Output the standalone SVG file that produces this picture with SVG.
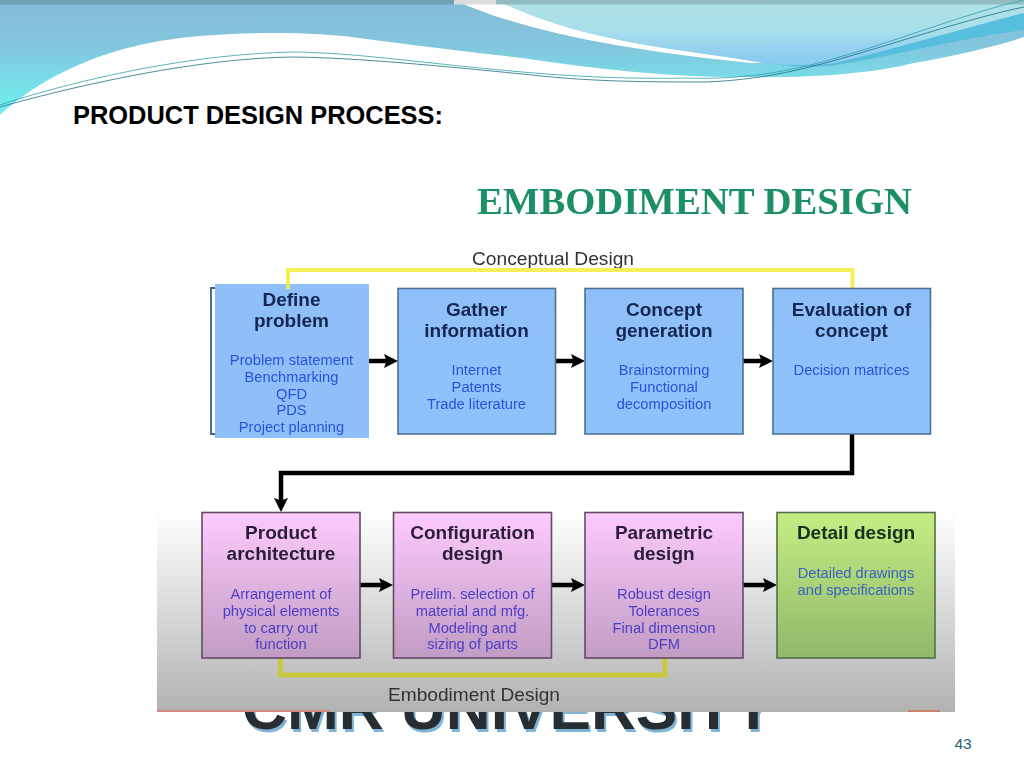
<svg xmlns="http://www.w3.org/2000/svg" width="1024" height="768" viewBox="0 0 1024 768">
<style>
text{font-family:"Liberation Sans",Arial,sans-serif;text-anchor:middle}
.box{stroke-width:1.6}
.b{fill:url(#blue);stroke:#4f708f}
.p{fill:url(#pink);stroke:#5e4e62}
.g{fill:url(#green);stroke:#566f4c}
.t{font-weight:bold;font-size:19px;fill:#14264f}
.tp{font-weight:bold;font-size:19px;fill:#2b1f3c}
.tg{font-weight:bold;font-size:19px;fill:#16301c}
.d{font-size:14.700px;fill:#2a52dc}
.dp{font-size:14.700px;fill:#4a3fc6}
.dg{font-size:14.700px;fill:#3a62c2}
.lab{font-size:18.500px;fill:#333}
.arr{fill:none;stroke:#000;stroke-width:4.5;marker-end:url(#ah)}
</style>
<defs>
<linearGradient id="sky" gradientUnits="userSpaceOnUse" x1="0" y1="0" x2="0" y2="115"><stop offset="0" stop-color="#86bbd9"/><stop offset=".4" stop-color="#82c6dd"/><stop offset=".7" stop-color="#78dde8"/><stop offset="1" stop-color="#70f0f0"/></linearGradient>
<linearGradient id="light" gradientUnits="userSpaceOnUse" x1="0" y1="0" x2="0" y2="66"><stop offset="0" stop-color="#b0e2e6"/><stop offset=".45" stop-color="#a8dfea"/><stop offset=".85" stop-color="#8ecdf2"/><stop offset="1" stop-color="#88caf0"/></linearGradient>
<linearGradient id="panel" gradientUnits="userSpaceOnUse" x1="0" y1="510" x2="0" y2="712"><stop offset="0" stop-color="#fff"/><stop offset=".2" stop-color="#f0f0f0"/><stop offset="1" stop-color="#b2b2b2"/></linearGradient>
<linearGradient id="blue" x1="0" y1="0" x2="0" y2="1"><stop offset="0" stop-color="#8ebff8"/><stop offset="1" stop-color="#8fc2fb"/></linearGradient>
<linearGradient id="pink" x1="0" y1="0" x2="0" y2="1"><stop offset="0" stop-color="#fecafc"/><stop offset="1" stop-color="#c09cc4"/></linearGradient>
<linearGradient id="green" x1="0" y1="0" x2="0" y2="1"><stop offset="0" stop-color="#c4ee84"/><stop offset="1" stop-color="#90b86a"/></linearGradient>
<filter id="soft" x="-5%" y="-5%" width="110%" height="110%"><feGaussianBlur stdDeviation="0.45"/></filter>
<marker id="ah" markerUnits="userSpaceOnUse" markerWidth="16" markerHeight="16" refX="9" refY="8" orient="auto"><path d="M0 1 L14 8 L0 15 L2.500 8 Z" fill="#000"/></marker>
</defs>
<rect width="1024" height="768" fill="#fff"/>

<g id="banner">
<path d="M0 0H1024V37C1000 45 960 55 914 63C870 74 810 78 751 77C680 78 600 70 522 58C470 52 420 46 359 38C320 33 261 31 200 36C90 45 30 88 0 115Z" fill="url(#sky)"/>
<path d="M454 0C520 30 620 50 751 63L764 63C680 48 590 45 496 0Z" fill="#fff"/>
<path d="M496 0C590 45 680 48 764 63C790 66 810 66 836 63C890 50 960 30 1024 13V0Z" fill="url(#light)"/>
<path d="M764 63C790 66 810 66 836 63C890 50 960 30 1024 13V30C960 38 900 55 836 65C810 68 785 66 764 63Z" fill="#58bede"/>
<rect width="454" height="4.5" fill="#6f9fb9"/>
<rect x="454" width="42" height="4.5" fill="#dcdcdc"/>
<rect x="496" width="528" height="4.5" fill="#8fbcc0"/>
<path d="M0 105C60 85 180 54 294 52C360 53 420 63 522 72C590 78 650 79 686 78C740 80 790 72 836 58C900 40 970 12 1024 0" fill="none" stroke="#2f9fae" stroke-width=".8"/>
<path d="M0 107C60 90 190 58 294 57C360 58 440 66 522 74C590 82 650 82 705 82C760 80 800 70 836 60C900 42 970 18 1024 7" fill="none" stroke="#1f6f80" stroke-width=".8"/>
</g>

<text x="258" y="124" font-size="26" font-weight="bold" fill="#000" textLength="370" lengthAdjust="spacingAndGlyphs">PRODUCT DESIGN PROCESS:</text>

<g id="watermark">
<text x="510" y="732" font-size="62" font-weight="bold" fill="#7fb4d6" textLength="532" lengthAdjust="spacingAndGlyphs">CMR UNIVERSITY</text>
<text x="508" y="729" font-size="62" font-weight="bold" fill="#262d33" textLength="532" lengthAdjust="spacingAndGlyphs">CMR UNIVERSITY</text>
</g>

<g id="image-panel" filter="url(#soft)">
<rect x="157" y="510" width="798" height="202" fill="url(#panel)"/>
<rect x="157" y="710" width="173" height="2" fill="#d08a80"/>
<rect x="908" y="710" width="32" height="2" fill="#c8846a"/>
</g>

<g filter="url(#soft)">
<text x="694.500" y="214" font-size="38" font-weight="bold" style="font-family:'Liberation Serif',serif" fill="#1b8f63" textLength="435" lengthAdjust="spacingAndGlyphs">EMBODIMENT DESIGN</text>
<text class="lab" x="553" y="265" textLength="162" lengthAdjust="spacingAndGlyphs">Conceptual Design</text>
<text class="lab" x="474" y="701" textLength="172" lengthAdjust="spacingAndGlyphs">Embodiment Design</text>

<g id="connectors">
<path d="M288 288V270H852.500V288" fill="none" stroke="#f6ee5a" stroke-width="4"/>
<path d="M280.500 658V675H665V658" fill="none" stroke="#c9c93c" stroke-width="5"/>
<path class="arr" d="M852 434V473H281V507"/>
<path class="arr" d="M369 361H393"/>
<path class="arr" d="M555 361H580"/>
<path class="arr" d="M743 361H768"/>
<path class="arr" d="M360 585H388"/>
<path class="arr" d="M552 585H580"/>
<path class="arr" d="M743 585H772"/>
</g>

<g id="define-problem">
<path d="M215 288H211V434H215" fill="none" stroke="#3f5f7f" stroke-width="1.800"/>
<rect x="215" y="284" width="154" height="154" fill="#8ebff8"/>
<path d="M288 284V289" stroke="#e8e860" stroke-width="4"/>
<text class="t" x="291.500" y="306">Define</text><text class="t" x="291.500" y="327">problem</text>
<text class="d" x="291.500" y="365">Problem statement</text><text class="d" x="291.500" y="382">Benchmarking</text><text class="d" x="291.500" y="399">QFD</text><text class="d" x="291.500" y="415">PDS</text><text class="d" x="291.500" y="431.500">Project planning</text>
</g>
<g id="gather-information">
<rect class="box b" x="398" y="288.500" width="157.500" height="145.500"/>
<text class="t" x="476.500" y="316">Gather</text><text class="t" x="476.500" y="337">information</text>
<text class="d" x="476.500" y="375">Internet</text><text class="d" x="476.500" y="392">Patents</text><text class="d" x="476.500" y="408.500">Trade literature</text>
</g>
<g id="concept-generation">
<rect class="box b" x="585" y="288.500" width="158" height="145.500"/>
<text class="t" x="664" y="316">Concept</text><text class="t" x="664" y="337">generation</text>
<text class="d" x="664" y="375">Brainstorming</text><text class="d" x="664" y="392">Functional</text><text class="d" x="664" y="408.500">decomposition</text>
</g>
<g id="evaluation-of-concept">
<rect class="box b" x="773" y="288.500" width="157.500" height="145.500"/>
<text class="t" x="851.500" y="316">Evaluation of</text><text class="t" x="851.500" y="337">concept</text>
<text class="d" x="851.500" y="375">Decision matrices</text>
</g>
<g id="product-architecture">
<rect class="box p" x="202" y="512.500" width="158" height="145.500"/>
<text class="tp" x="281" y="539">Product</text><text class="tp" x="281" y="560">architecture</text>
<text class="dp" x="281" y="599">Arrangement of</text><text class="dp" x="281" y="616">physical elements</text><text class="dp" x="281" y="632.500">to carry out</text><text class="dp" x="281" y="649">function</text>
</g>
<g id="configuration-design">
<rect class="box p" x="393.500" y="512.500" width="158" height="145.500"/>
<text class="tp" x="472.500" y="539">Configuration</text><text class="tp" x="472.500" y="560">design</text>
<text class="dp" x="472.500" y="599">Prelim. selection of</text><text class="dp" x="472.500" y="616">material and mfg.</text><text class="dp" x="472.500" y="632.500">Modeling and</text><text class="dp" x="472.500" y="649">sizing of parts</text>
</g>
<g id="parametric-design">
<rect class="box p" x="585" y="512.500" width="158" height="145.500"/>
<text class="tp" x="664" y="539">Parametric</text><text class="tp" x="664" y="560">design</text>
<text class="dp" x="664" y="599">Robust design</text><text class="dp" x="664" y="616">Tolerances</text><text class="dp" x="664" y="632.500">Final dimension</text><text class="dp" x="664" y="649">DFM</text>
</g>
<g id="detail-design">
<rect class="box g" x="777" y="512.500" width="158" height="145.500"/>
<text class="tg" x="856" y="539">Detail design</text>
<text class="dg" x="856" y="578">Detailed drawings</text><text class="dg" x="856" y="594.500">and specifications</text>
</g>
</g>

<text x="963" y="749" font-size="15.500" fill="#1f5f7a">43</text>
</svg>
